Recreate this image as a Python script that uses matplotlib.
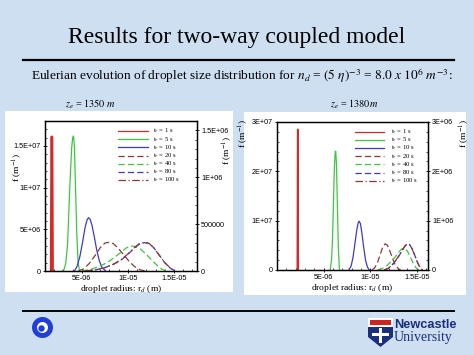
import matplotlib
matplotlib.use('Agg')
import matplotlib.pyplot as plt
from matplotlib.patches import Rectangle, Circle, Polygon
from matplotlib.ticker import AutoMinorLocator

plt.rcParams['mathtext.fontset'] = 'stix'
plt.rcParams['font.family'] = 'Liberation Serif'

# ---- data ----
series_labels = ['t$_e$ = 1 s', 't$_e$ = 5 s', 't$_e$ = 10 s', 't$_e$ = 20 s',
                 't$_e$ = 40 s', 't$_e$ = 80 s', 't$_e$ = 100 s']

# z_e = 1350 m (radius in m, f in m^-1, left axis units)
l_r1 = [1.66e-6, 1.72e-6, 1.77e-6, 1.83e-6]
l_f1 = [0, 1.61e7, 1.61e7, 0]
l_r5 = [2.85e-6, 3.05e-6, 3.25e-6, 3.45e-6, 3.6e-6, 3.75e-6, 3.9e-6, 4.0e-6,
        4.1e-6, 4.2e-6, 4.3e-6, 4.45e-6, 4.6e-6, 4.75e-6]
l_f5 = [0, 0.15e6, 0.9e6, 3.2e6, 7.5e6, 11.5e6, 14.8e6, 16.0e6,
        16.2e6, 14.8e6, 10.5e6, 4.5e6, 1.0e6, 0]
l_r10 = [4.2e-6, 4.5e-6, 4.8e-6, 5.1e-6, 5.35e-6, 5.55e-6, 5.72e-6, 5.9e-6,
         6.1e-6, 6.35e-6, 6.6e-6, 6.9e-6, 7.2e-6, 7.6e-6]
l_f10 = [0, 0.6e6, 1.8e6, 3.6e6, 5.2e6, 6.1e6, 6.4e6, 6.2e6,
         5.5e6, 4.1e6, 2.6e6, 1.2e6, 0.4e6, 0]
l_r20 = [4.6e-6, 5.2e-6, 5.8e-6, 6.4e-6, 7.0e-6, 7.5e-6, 7.95e-6, 8.4e-6,
         8.9e-6, 9.5e-6, 10.1e-6, 10.7e-6, 11.3e-6, 11.9e-6]
l_f20 = [0, 0.25e6, 0.9e6, 1.8e6, 2.8e6, 3.35e6, 3.45e6, 3.3e6,
         2.8e6, 2.0e6, 1.2e6, 0.55e6, 0.15e6, 0]
l_r40 = [5.0e-6, 6.0e-6, 7.0e-6, 7.8e-6, 8.5e-6, 9.2e-6, 9.8e-6, 10.3e-6,
         10.8e-6, 11.4e-6, 12.0e-6, 12.6e-6, 13.2e-6, 13.7e-6, 14.2e-6]
l_f40 = [0, 0.2e6, 0.6e6, 1.05e6, 1.6e6, 2.2e6, 2.75e6, 3.0e6,
         2.95e6, 2.6e6, 2.0e6, 1.3e6, 0.65e6, 0.2e6, 0]
l_r80 = [5.4e-6, 6.5e-6, 7.5e-6, 8.5e-6, 9.3e-6, 10.0e-6, 10.6e-6, 11.2e-6,
         11.8e-6, 12.3e-6, 12.8e-6, 13.4e-6, 14.0e-6, 14.6e-6, 15.1e-6]
l_f80 = [0, 0.15e6, 0.4e6, 0.85e6, 1.35e6, 2.0e6, 2.65e6, 3.2e6,
         3.4e6, 3.3e6, 2.8e6, 1.9e6, 1.0e6, 0.35e6, 0]
l_r100 = [5.4e-6, 6.5e-6, 7.5e-6, 8.5e-6, 9.3e-6, 10.0e-6, 10.6e-6, 11.2e-6,
          11.8e-6, 12.3e-6, 12.8e-6, 13.4e-6, 14.0e-6, 14.6e-6, 15.1e-6]
l_f100 = [0, 0.15e6, 0.4e6, 0.85e6, 1.4e6, 2.05e6, 2.7e6, 3.25e6,
          3.45e6, 3.3e6, 2.8e6, 1.9e6, 1.0e6, 0.35e6, 0]

# z_e = 1380 m
r_r1 = [2.18e-6, 2.22e-6, 2.24e-6, 2.28e-6]
r_f1 = [0, 2.85e7, 2.85e7, 0]
r_r5 = [5.7e-6, 5.85e-6, 5.95e-6, 6.05e-6, 6.15e-6, 6.25e-6, 6.3e-6,
        6.38e-6, 6.48e-6, 6.58e-6, 6.7e-6]
r_f5 = [0, 2.0e6, 6.0e6, 13.0e6, 20.5e6, 24.0e6, 24.1e6,
        21.5e6, 13.0e6, 4.5e6, 0]
r_r10 = [7.7e-6, 7.95e-6, 8.15e-6, 8.35e-6, 8.55e-6, 8.7e-6, 8.8e-6,
         8.95e-6, 9.1e-6, 9.3e-6, 9.5e-6, 9.7e-6, 9.9e-6]
r_f10 = [0, 0.8e6, 2.5e6, 5.2e6, 8.0e6, 9.5e6, 9.9e6,
         9.4e6, 7.6e6, 4.6e6, 2.0e6, 0.6e6, 0]
r_r20 = [10.2e-6, 10.5e-6, 10.8e-6, 11.1e-6, 11.35e-6, 11.6e-6, 11.85e-6,
         12.1e-6, 12.4e-6, 12.7e-6, 13.0e-6, 13.25e-6]
r_f20 = [0, 0.5e6, 1.6e6, 3.3e6, 4.7e6, 5.3e6, 5.0e6,
         3.9e6, 2.3e6, 1.0e6, 0.3e6, 0]
r_r40 = [10.8e-6, 11.3e-6, 11.8e-6, 12.3e-6, 12.7e-6, 13.05e-6, 13.4e-6,
         13.7e-6, 14.0e-6, 14.3e-6, 14.6e-6, 14.9e-6, 15.2e-6]
r_f40 = [0, 0.3e6, 0.9e6, 1.8e6, 2.7e6, 3.6e6, 4.3e6,
         4.4e6, 3.8e6, 2.7e6, 1.4e6, 0.5e6, 0]
r_r80 = [11.5e-6, 11.9e-6, 12.3e-6, 12.7e-6, 13.1e-6, 13.45e-6, 13.75e-6,
         14.0e-6, 14.25e-6, 14.5e-6, 14.8e-6, 15.1e-6, 15.35e-6, 15.6e-6]
r_f80 = [0, 0.3e6, 0.9e6, 1.8e6, 2.9e6, 4.0e6, 4.9e6,
         5.3e6, 5.1e6, 4.3e6, 2.9e6, 1.4e6, 0.5e6, 0]
r_r100 = [11.5e-6, 11.9e-6, 12.3e-6, 12.7e-6, 13.1e-6, 13.45e-6, 13.75e-6,
          14.0e-6, 14.25e-6, 14.5e-6, 14.8e-6, 15.1e-6, 15.35e-6, 15.6e-6]
r_f100 = [0, 0.3e6, 0.9e6, 1.85e6, 2.95e6, 4.05e6, 4.95e6,
          5.3e6, 5.05e6, 4.25e6, 2.85e6, 1.4e6, 0.5e6, 0]

x_ticks = [5e-6, 1e-5, 1.5e-5]
x_ticklabels = ['5E-06', '1E-05', '1.5E-05']
l_yticks = [0, 5e6, 1e7, 1.5e7]
l_yticklabels = ['0', '5E+06', '1E+07', '1.5E+07']
l_y2ticks = [0, 5e5, 1e6, 1.5e6]
l_y2ticklabels = ['0', '500000', '1E+06', '1.5E+06']
r_yticks = [0, 1e7, 2e7, 3e7]
r_yticklabels = ['0', '1E+07', '2E+07', '3E+07']
r_y2ticks = [0, 1e6, 2e6, 3e6]
r_y2ticklabels = ['0', '1E+06', '2E+06', '3E+06']

colors = ['#d42a2a', '#3cc83c', '#3a3ad0', '#993333', '#3cc83c', '#3a3ad0', '#993333']
styles = ['-', '-', '-', (0, (5, 2.5)), (0, (5, 2.5)), (0, (5, 2.5)), (0, (6, 2, 1, 2))]

W, H = 474, 355
BG = '#cddff1'
fig = plt.figure(figsize=(W / 100, H / 100), dpi=100)
fig.patch.set_facecolor(BG)

# full-figure overlay in pixel units for the slide decoration
bg = fig.add_axes([0, 0, 1, 1])
bg.set_xlim(0, W)
bg.set_ylim(H, 0)
bg.axis('off')

bg.text(237, 37, 'Results for two-way coupled model', ha='center', va='center', fontsize=17)
bg.plot([23, 454], [59.5, 59.5], color='black', lw=1.6)
bg.text(242, 75.5, 'Eulerian evolution of droplet size distribution for '
        r'$n_d$ = $(5\ \eta)^{-3}$ = $8.0\ x\ 10^{6}\ m^{-3}$:',
        ha='center', va='center', fontsize=9.6)
bg.text(90, 104, r'$z_e$ = $1350\ m$', ha='center', va='center', fontsize=7.4)
bg.text(354, 104, r'$z_e$ = $1380m$', ha='center', va='center', fontsize=7.4)
bg.plot([23, 454], [311, 311], color='black', lw=1.4)

# white panels behind the plots
bg.add_patch(Rectangle((5, 111), 228, 181, facecolor='white', edgecolor='none'))
bg.add_patch(Rectangle((244, 112), 222, 183, facecolor='white', edgecolor='none'))

# left logo
bg.add_patch(Circle((42.5, 327.5), 10.5, facecolor='#1f3fd8', edgecolor='none'))
bg.add_patch(Polygon([[31, 316], [38, 316], [31, 323]], facecolor=BG, edgecolor='none'))
bg.add_patch(Polygon([[54, 339], [47, 339], [54, 332]], facecolor=BG, edgecolor='none'))
bg.add_patch(Circle((42.5, 327.5), 5.5, facecolor='white', edgecolor='none'))
bg.add_patch(Circle((41.5, 328.5), 3.2, facecolor='#1f3fd8', edgecolor='none'))

# right logo: shield + wordmark
bg.add_patch(Rectangle((368, 318), 25, 9, facecolor='white', edgecolor='none'))
bg.add_patch(Rectangle((370, 320), 21, 5, facecolor='#d42020', edgecolor='none'))
bg.add_patch(Polygon([[368, 327], [393, 327], [393, 337], [380.5, 347], [368, 337]],
                     facecolor='#1b2f7a', edgecolor='none'))
bg.add_patch(Rectangle((379, 328), 3, 15, facecolor='white', edgecolor='none'))
bg.add_patch(Rectangle((372, 333), 17, 3, facecolor='white', edgecolor='none'))
bg.text(394, 325.5, 'Newcastle', ha='left', va='center', fontsize=9.2,
        fontweight='bold', family='Liberation Sans', color='#1b2f7a')
bg.text(394, 337, 'University', ha='left', va='center', fontsize=10,
        color='#1b2f7a')


def px_axes(box):
    x0, y0, x1, y1 = box
    return fig.add_axes([x0 / W, 1 - y1 / H, (x1 - x0) / W, (y1 - y0) / H])


def draw_plot(box, curves, xlim, ylim, y2lim, yt, ytl, y2t, y2tl, lw_first,
              ylab_left, ylab_right, leg):
    ax = px_axes(box)
    x0, y0, x1, y1 = box
    for (r, f), col, ls, lab in zip(curves, colors, styles, series_labels):
        ax.plot(r, f, color=col, ls=ls, lw=lw_first if lab == series_labels[0] else 0.9)
    ax.set_xlim(*xlim)
    ax.set_ylim(*ylim)
    ax.set_xticks(x_ticks)
    ax.set_xticklabels(x_ticklabels, family='Liberation Sans', fontsize=5.2)
    ax.set_yticks(yt)
    ax.set_yticklabels(ytl, family='Liberation Sans', fontsize=5.2)
    ax.xaxis.set_minor_locator(AutoMinorLocator(5))
    ax.yaxis.set_minor_locator(AutoMinorLocator(5))
    ax.tick_params(which='major', direction='inout', length=3, width=0.6, pad=1.5)
    ax.tick_params(which='minor', direction='in', length=1.5, width=0.5)
    for s in ax.spines.values():
        s.set_linewidth(0.9)
    ax.set_xlabel('droplet radius: r$_d$ (m)', fontsize=6.8, labelpad=0.5)
    ax.set_ylabel('f (m$^{-1}$)', fontsize=6.8)
    ax.yaxis.set_label_coords((ylab_left[0] - x0) / (x1 - x0),
                              (y1 - ylab_left[1]) / (y1 - y0))

    ax2 = ax.twinx()
    ax2.set_ylim(*y2lim)
    ax2.set_yticks(y2t)
    ax2.set_yticklabels(y2tl, family='Liberation Sans', fontsize=5.2)
    ax2.yaxis.set_minor_locator(AutoMinorLocator(5))
    ax2.tick_params(which='major', direction='inout', length=3, width=0.6, pad=1.5)
    ax2.tick_params(which='minor', direction='in', length=1.5, width=0.5)
    ax2.set_ylabel('f (m$^{-1}$)', fontsize=6.8)
    ax2.yaxis.set_label_coords((ylab_right[0] - x0) / (x1 - x0),
                               (y1 - ylab_right[1]) / (y1 - y0))
    for s in ax2.spines.values():
        s.set_linewidth(0.9)

    # legend drawn as in the Tecplot figure: short line samples + labels
    lx0, lx1, tx, ly, step = leg
    for i, (col, ls, lab) in enumerate(zip(colors, styles, series_labels)):
        yy = (y1 - (ly + i * step)) / (y1 - y0)
        ax.plot([(lx0 - x0) / (x1 - x0), (lx1 - x0) / (x1 - x0)], [yy, yy],
                color=col, ls=ls, lw=0.9, transform=ax.transAxes)
        ax.text((tx - x0) / (x1 - x0), yy, lab, transform=ax.transAxes,
                ha='left', va='center', fontsize=4.8)
    return ax


draw_plot((45, 121, 197, 271),
          [(l_r1, l_f1), (l_r5, l_f5), (l_r10, l_f10), (l_r20, l_f20),
           (l_r40, l_f40), (l_r80, l_f80), (l_r100, l_f100)],
          (1.0e-6, 1.75e-5), (0, 1.8e7), (0, 1.6e6),
          l_yticks, l_yticklabels, l_y2ticks, l_y2ticklabels, 1.8,
          (24, 167), (220, 150), (118, 148, 153, 131, 8.17))

draw_plot((277, 122, 428, 270),
          [(r_r1, r_f1), (r_r5, r_f5), (r_r10, r_f10), (r_r20, r_f20),
           (r_r40, r_f40), (r_r80, r_f80), (r_r100, r_f100)],
          (0, 1.62e-5), (0, 3e7), (0, 3e6),
          r_yticks, r_yticklabels, r_y2ticks, r_y2ticklabels, 1.2,
          (250, 133), (457, 133), (354.7, 384, 390.7, 131.7, 8.17))

fig.savefig('out.png', dpi=100, facecolor=fig.get_facecolor())
